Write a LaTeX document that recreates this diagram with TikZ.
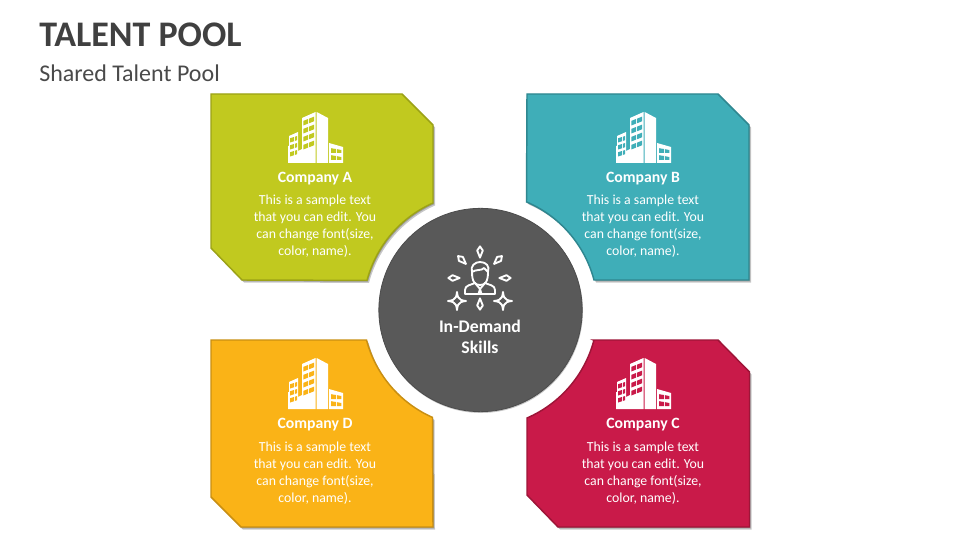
\documentclass[tikz,border=0pt]{standalone}
\usepackage{fontspec}
\setmainfont{Carlito}
\definecolor{titlecol}{HTML}{404040}
\definecolor{subcol}{HTML}{4A4A4A}
\definecolor{afill}{HTML}{C1C91F}\definecolor{aline}{HTML}{9CA217}
\definecolor{bfill}{HTML}{3FAEB8}\definecolor{bline}{HTML}{2F8790}
\definecolor{cfill}{HTML}{C91A49}\definecolor{cline}{HTML}{9E1538}
\definecolor{dfill}{HTML}{FAB317}\definecolor{dline}{HTML}{C98F12}
\definecolor{hubfill}{HTML}{595959}
\newcommand{\pa}{(211,446) -- (402,446) -- (433,415) -- (433,337) arc[start angle=113.9,end angle=165.2,radius=117.5] -- (242,260) -- (211,292) -- cycle}
\newcommand{\pb}{(527,446) -- (718,446) -- (749,415) -- (749,260) -- (594,260) arc[start angle=14.8,end angle=66.9,radius=117.5] -- cycle}
\newcommand{\pc}{(593.5,200) -- (718,200) -- (749.5,168) -- (749.5,13) -- (558,13) -- (527,45) -- (527,122) arc[start angle=293.4,end angle=345.2,radius=117.5] -- cycle}
\newcommand{\pd}{(211,200) -- (366.5,200) arc[start angle=194.8,end angle=246.1,radius=117.5] -- (433,13) -- (241,13) -- (211,43) -- cycle}
\tikzset{
  softshadow/.style={fill=black,fill opacity=0.22,draw=none},
  headtext/.style={text=white,font=\fontsize{11.8pt}{13pt}\selectfont\bfseries,align=center},
  bodytext/.style={text=white,font=\fontsize{10.35pt}{12.75pt}\selectfont,align=center},
  iconline/.style={draw=white,line width=1.4pt,line join=round,line cap=round},
  kite/.pic={\draw[iconline] (0,5.6)--(2.8,1.5)--(0,-5.6)--(-2.8,1.5)--cycle;},
  sparkle/.pic={\draw[iconline] (0,9) .. controls (0.6,4) and (1.5,2.5) .. (2.5,2.5) .. controls (3,1.5) and (4,0.6) .. (9,0) .. controls (4,-0.6) and (3,-1.5) .. (2.5,-2.5) .. controls (1.5,-2.5) and (0.6,-4) .. (0,-9) .. controls (-0.6,-4) and (-1.5,-2.5) .. (-2.5,-2.5) .. controls (-3,-1.5) and (-4,-0.6) .. (-9,0) .. controls (-4,0.6) and (-3,1.5) .. (-2.5,2.5) .. controls (-1.5,2.5) and (-0.6,4) .. (0,9) -- cycle;},
  building/.pic={
    \fill[white] (-28,0) -- (-28,17) -- (-27,17) -- (-27,27) -- (-18,31) -- (-18,12) -- (-14,14) -- (-14,45) -- (-0.5,51) -- (-0.5,0) -- cycle;
    \fill[white] (0.7,51) -- (12,45) -- (12,0) -- (0.7,0) -- cycle;
    \fill[white] (13,20) -- (27,16) -- (27,0) -- (13,0) -- cycle;
    \foreach \r in {0,8,16,24}{
      \fill[pic actions] (-12.7,13.5+\r) -- (-8,15.4+\r) -- (-8,20+\r) -- (-12.7,18.1+\r) -- cycle;
      \fill[pic actions] (-6.8,15.8+\r) -- (-1.8,17.8+\r) -- (-1.8,22.4+\r) -- (-6.8,20.4+\r) -- cycle;
    }
    \foreach \r in {0,7,14}{
      \fill[pic actions] (-26,6.5+\r) -- (-22,7.8+\r) -- (-22,12+\r) -- (-26,10.7+\r) -- cycle;
      \fill[pic actions] (-21,8.1+\r) -- (-19,8.8+\r) -- (-19,13+\r) -- (-21,12.3+\r) -- cycle;
    }
    \foreach \r in {0,7}{
      \fill[pic actions] (15,3+\r) -- (20,3+\r) -- (20,7+\r) -- (15,7.8+\r) -- cycle;
      \fill[pic actions] (21,3+\r) -- (25.3,3+\r) -- (25.3,6+\r) -- (21,6.8+\r) -- cycle;
    }
  },
}
\begin{document}
\begin{tikzpicture}[x=0.75pt,y=0.75pt]
\useasboundingbox (0,0) rectangle (960,540);
\fill[white] (0,0) rectangle (960,540);
\node[anchor=base west,inner sep=0pt,text=titlecol,font=\fontsize{27pt}{30pt}\selectfont\bfseries] (title) at (39,493) {TALENT POOL};
\node[anchor=base west,inner sep=0pt,text=subcol,font=\fontsize{18pt}{20pt}\selectfont] (subtitle) at (39,458.5) {Shared Talent Pool};
% shadows
\foreach \p in {\pa,\pb,\pc,\pd}{
  \begin{scope}[shift={(2,-2.5)}] \fill[softshadow] \p; \end{scope}
  \begin{scope}[shift={(1,-1.3)}] \fill[softshadow] \p; \end{scope}
}
\fill[softshadow] (481,229) circle[radius=102];
% panels
\draw[fill=afill,draw=aline,line width=1.1pt] \pa;
\draw[fill=bfill,draw=bline,line width=1.1pt] \pb;
\draw[fill=cfill,draw=cline,line width=1.1pt] \pc;
\draw[fill=dfill,draw=dline,line width=1.1pt] \pd;
% hub
\node[circle,fill=hubfill,draw=hubfill!85!black,line width=0.6pt,minimum size=152.5pt,inner sep=0pt] (hub) at (480.5,230) {};
% buildings
\pic[fill=afill] at (316,377) {building};
\pic[fill=bfill] at (644,377) {building};
\pic[fill=cfill] at (644,131) {building};
\pic[fill=dfill] at (316,131) {building};
% person icon
\begin{scope}[shift={(480,260)}]
  \draw[iconline] (-8,8) .. controls (-8,-2) and (-5,-5) .. (0,-5) .. controls (5,-5) and (8,-2) .. (8,8);
  \draw[iconline] (-8,8) .. controls (-10,14) and (-5,18) .. (0,18) .. controls (6,18) and (10,14) .. (8,8) .. controls (7,10) and (5,10) .. (4,12) .. controls (2,9) and (-4,11) .. (-8,8);
  \draw[iconline] (-5,-3) .. controls (-9,-5) and (-15,-5) .. (-15,-10) -- (-15,-14) -- (15,-14) -- (15,-10) .. controls (15,-5) and (9,-5) .. (5,-3);
  \draw[iconline] (-5,-3) -- (0,-9) -- (5,-3);
  \draw[iconline] (-1.5,-14) -- (0,-9) -- (1.5,-14);
\end{scope}
\pic at (480,288) {kite};
\pic[rotate=45] at (462,280) {kite};
\pic[rotate=-45] at (498,280) {kite};
\pic[rotate=90] at (454,262) {kite};
\pic[rotate=-90] at (505,262) {kite};
\pic[rotate=180] at (480,236) {kite};
\pic at (457,239) {sparkle};
\pic at (503,239) {sparkle};
\node[text=white,font=\fontsize{13.3pt}{15.8pt}\selectfont\bfseries,align=center,inner sep=0pt] (hubtext) at (480,203.5) {In-Demand\\Skills};
% labels
\node[headtext] (ahead) at (315,361.2) {Company A};
\node[headtext] (bhead) at (643,361.2) {Company B};
\node[headtext] (chead) at (643,115.2) {Company C};
\node[headtext] (dhead) at (315,115.2) {Company D};
\node[bodytext] (abody) at (315,313.8) {This is a sample text\\that you can edit. You\\can change font(size,\\color, name).};
\node[bodytext] (bbody) at (643,313.8) {This is a sample text\\that you can edit. You\\can change font(size,\\color, name).};
\node[bodytext] (cbody) at (643,66.8) {This is a sample text\\that you can edit. You\\can change font(size,\\color, name).};
\node[bodytext] (dbody) at (315,66.8) {This is a sample text\\that you can edit. You\\can change font(size,\\color, name).};
\end{tikzpicture}
\end{document}
